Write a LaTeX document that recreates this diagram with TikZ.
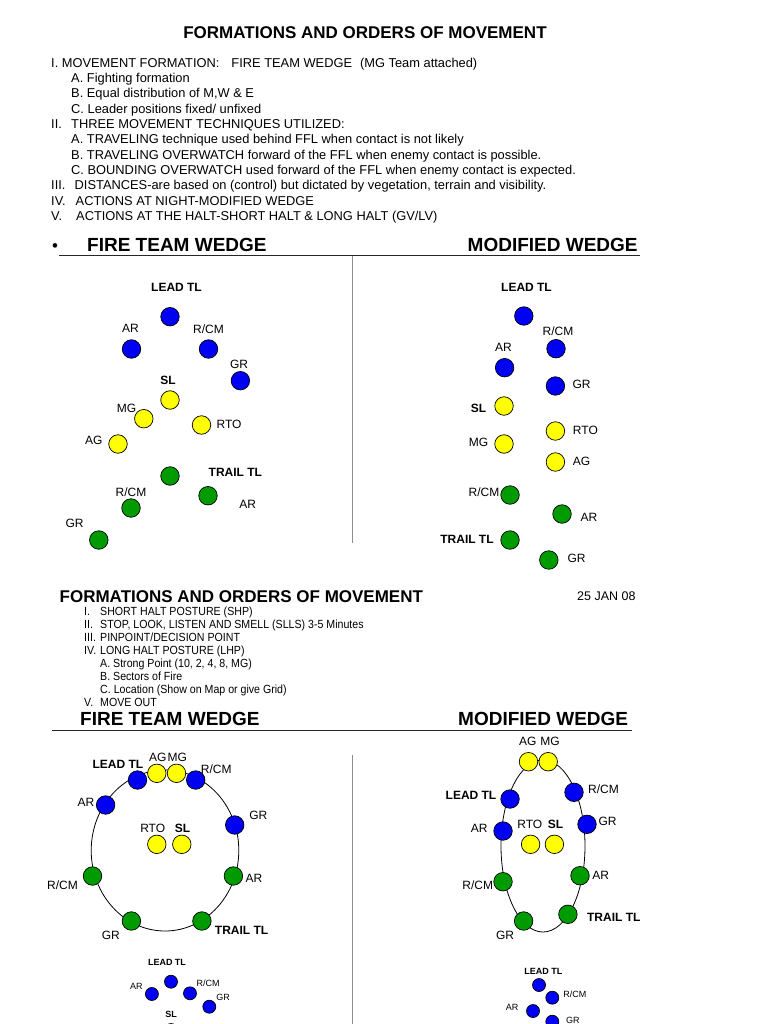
\documentclass[tikz,border=0pt]{standalone}
\usepackage{fontspec}
\setmainfont{Liberation Sans}
\newfontfamily\narrowsf[FakeStretch=0.9]{Liberation Sans}
\definecolor{teamblue}{RGB}{0,0,245}
\definecolor{teamyellow}{RGB}{255,255,0}
\definecolor{teamgreen}{RGB}{0,155,0}
\tikzset{
  man/.style={circle, draw=black, line width=0.7pt, minimum size=18.5pt, inner sep=0pt},
  bman/.style={man, fill=teamblue},
  yman/.style={man, fill=teamyellow},
  gman/.style={man, fill=teamgreen},
  tiny/.style={minimum size=13pt},
  lbl/.style={inner sep=0pt, text depth=0pt, font=\fontsize{12}{14}\selectfont},
  blbl/.style={inner sep=0pt, text depth=0pt, font=\bfseries\fontsize{12}{14}\selectfont},
  slbl/.style={inner sep=0pt, text depth=0pt, font=\fontsize{9}{10}\selectfont},
  sblbl/.style={inner sep=0pt, text depth=0pt, font=\bfseries\fontsize{9}{10}\selectfont},
  body/.style={anchor=base west, inner sep=0pt, font=\fontsize{12.85}{15}\selectfont},
  subbody/.style={anchor=base west, inner sep=0pt, font=\narrowsf\fontsize{11.8}{13}\selectfont},
  title/.style={inner sep=0pt, font=\bfseries\fontsize{17}{20}\selectfont},
  head/.style={anchor=base west, inner sep=0pt, font=\bfseries\fontsize{19}{22}\selectfont},
  rule/.style={line width=1.8pt, draw=black!85},
  divider/.style={line width=1.8pt, draw=black!45},
  ring/.style={line width=0.8pt, draw=black}
}
\begin{document}
\begin{tikzpicture}[x=1pt,y=-1pt]
\useasboundingbox[fill=white] (0,0) rectangle (768,1024);

% page heading and notes
\node[title, anchor=base] (title1) at (365,38.3) {FORMATIONS AND ORDERS OF MOVEMENT};
\node[body] (n1) at (51,67.3) {I. MOVEMENT FORMATION:\hspace{12pt}FIRE TEAM WEDGE\hspace{8pt}(MG Team attached)};
\node[body] (n1a) at (71,82.6) {A. Fighting formation};
\node[body] (n1b) at (71,97.9) {B. Equal distribution of M,W \& E};
\node[body] (n1c) at (71,113.3) {C. Leader positions fixed/ unfixed};
\node[body] (n2) at (51,128.6) {\makebox[20pt][l]{II.}THREE MOVEMENT TECHNIQUES UTILIZED:};
\node[body] (n2a) at (71,143.9) {A. TRAVELING technique used behind FFL when contact is not likely};
\node[body] (n2b) at (71,159.3) {B. TRAVELING OVERWATCH forward of the FFL when enemy contact is possible.};
\node[body] (n2c) at (71,174.6) {C. BOUNDING OVERWATCH used forward of the FFL when enemy contact is expected.};
\node[body] (n3) at (51,189.9) {\makebox[23.5pt][l]{III.}DISTANCES-are based on (control) but dictated by vegetation, terrain and visibility.};
\node[body] (n4) at (51,205.2) {\makebox[24.5pt][l]{IV.}ACTIONS AT NIGHT-MODIFIED WEDGE};
\node[body] (n5) at (51,220.5) {\makebox[25pt][l]{V.}ACTIONS AT THE HALT-SHORT HALT \& LONG HALT (GV/LV)};

% upper headers
\node[inner sep=0pt, font=\fontsize{17}{20}\selectfont] (bul) at (55,248) {•};
\node[head] (hdr1) at (87,251.7) {FIRE TEAM WEDGE};
\node[head] (hdr2) at (467.5,251.7) {MODIFIED WEDGE};
\draw[rule] (59,255.5) -- (640,255.5);
\draw[divider] (352.5,256) -- (352.5,543);

% fire team wedge
\node[blbl] (twLeadL) at (176.5,287.3) {LEAD TL};
\node[bman] (twLead) at (170,316.7) {};
\node[lbl] (twARL) at (130.4,328.7) {AR};
\node[bman] (twAR) at (131.5,349) {};
\node[lbl] (twRCML) at (208.5,328.7) {R/CM};
\node[bman] (twRCM) at (208.5,349) {};
\node[lbl] (twGRL) at (239,364) {GR};
\node[bman] (twGR) at (240.4,380.7) {};
\node[blbl] (twSLL) at (168,380) {SL};
\node[yman] (twSL) at (170,400) {};
\node[lbl] (twMGL) at (126.5,408) {MG};
\node[yman] (twMG) at (143.8,418.7) {};
\node[yman] (twRTO) at (201.5,425) {};
\node[lbl] (twRTOL) at (229,424) {RTO};
\node[lbl] (twAGL) at (93.8,440.7) {AG};
\node[yman] (twAG) at (118,444) {};
\node[gman] (twTrail) at (170,476) {};
\node[blbl] (twTrailL) at (235.4,472.3) {TRAIL TL};
\node[gman] (twAR2) at (208,495.7) {};
\node[lbl] (twAR2L) at (247.7,504.7) {AR};
\node[lbl] (twRCM2L) at (131,492) {R/CM};
\node[gman] (twRCM2) at (131,508) {};
\node[lbl] (twGR2L) at (74.6,523) {GR};
\node[gman] (twGR2) at (98.8,540) {};

% modified wedge
\node[blbl] (tmLeadL) at (526.5,287) {LEAD TL};
\node[bman] (tmLead) at (523.8,316) {};
\node[lbl] (tmRCML) at (558,331) {R/CM};
\node[bman] (tmRCM) at (556,348.7) {};
\node[lbl] (tmARL) at (503.5,347.7) {AR};
\node[bman] (tmAR) at (504.6,367.7) {};
\node[bman] (tmGR) at (555.4,386) {};
\node[lbl] (tmGRL) at (581.5,384) {GR};
\node[blbl] (tmSLL) at (478.5,408) {SL};
\node[yman] (tmSL) at (504,406) {};
\node[yman] (tmRTO) at (555.4,431) {};
\node[lbl] (tmRTOL) at (585.4,430) {RTO};
\node[lbl] (tmMGL) at (478.5,442.7) {MG};
\node[yman] (tmMG) at (504,444) {};
\node[yman] (tmAG) at (555.4,462) {};
\node[lbl] (tmAGL) at (581.5,461) {AG};
\node[lbl] (tmRCM2L) at (484,491.7) {R/CM};
\node[gman] (tmRCM2) at (510,495) {};
\node[gman] (tmAR2) at (562,514) {};
\node[lbl] (tmAR2L) at (589,517) {AR};
\node[blbl] (tmTrailL) at (467,539) {TRAIL TL};
\node[gman] (tmTrail) at (510,540) {};
\node[gman] (tmGR2) at (548.8,560) {};
\node[lbl] (tmGR2L) at (576.5,558) {GR};

% halt notes
\node[title, anchor=base west] (title2) at (59.5,602.3) {FORMATIONS AND ORDERS OF MOVEMENT};
\node[anchor=base west, inner sep=0pt, font=\fontsize{12.5}{15}\selectfont] (date) at (577,600.5) {25 JAN 08};
\node[subbody] (h1) at (84,615.5) {\makebox[16pt][l]{I.}SHORT HALT POSTURE (SHP)};
\node[subbody] (h2) at (84,628.5) {\makebox[16pt][l]{II.}STOP, LOOK, LISTEN AND SMELL (SLLS) 3-5 Minutes};
\node[subbody] (h3) at (84,641.5) {\makebox[16pt][l]{III.}PINPOINT/DECISION POINT};
\node[subbody] (h4) at (84,654.5) {\makebox[16pt][l]{IV.}LONG HALT POSTURE (LHP)};
\node[subbody] (h4a) at (100,667.5) {A. Strong Point (10, 2, 4, 8, MG)};
\node[subbody] (h4b) at (100,680.5) {B. Sectors of Fire};
\node[subbody] (h4c) at (100,693.5) {C. Location (Show on Map or give Grid)};
\node[subbody] (h5) at (84,706.5) {\makebox[16pt][l]{V.}MOVE OUT};

% lower headers
\node[head] (hdr3) at (80,725.7) {FIRE TEAM WEDGE};
\node[head] (hdr4) at (458,725.7) {MODIFIED WEDGE};
\draw[rule] (52,730.5) -- (632,730.5);
\draw[divider] (352.5,755) -- (352.5,1030);

% halt perimeter, fire team wedge
\draw[ring] (165,850.5) ellipse [x radius=73.8, y radius=80.5];
\node[blbl] (bwLeadL) at (117.9,764.3) {LEAD TL};
\node[bman] (bwLead) at (137.5,780) {};
\node[lbl] (bwAGL) at (157.8,757.3) {AG};
\node[lbl] (bwMGL) at (177.2,757.3) {MG};
\node[yman] (bwAG) at (156.8,773.3) {};
\node[yman] (bwMG) at (176.5,773.3) {};
\node[bman] (bwRCM) at (195.7,780) {};
\node[lbl] (bwRCML) at (216.2,769.3) {R/CM};
\node[lbl] (bwARL) at (85.9,802.3) {AR};
\node[bman] (bwAR) at (105.6,805) {};
\node[bman] (bwGR) at (234.7,825) {};
\node[lbl] (bwGRL) at (258.4,815) {GR};
\node[lbl] (bwRTOL) at (152.7,828.3) {RTO};
\node[blbl] (bwSLL) at (182.6,828.3) {SL};
\node[yman] (bwRTO) at (156.8,844.3) {};
\node[yman] (bwSL) at (181.8,844.3) {};
\node[gman] (bwRCM2) at (92.5,876) {};
\node[lbl] (bwRCM2L) at (62.5,885) {R/CM};
\node[gman] (bwAR2) at (233.4,876) {};
\node[lbl] (bwAR2L) at (254,878.3) {AR};
\node[gman] (bwGR2) at (131.4,921) {};
\node[lbl] (bwGR2L) at (110.9,935) {GR};
\node[gman] (bwTrail) at (201.9,921) {};
\node[blbl] (bwTrailL) at (241.6,930) {TRAIL TL};

% halt perimeter, modified wedge
\draw[ring] (543,846) ellipse [x radius=42, y radius=86];
\node[lbl] (bmAGL) at (527.7,741.7) {AG};
\node[lbl] (bmMGL) at (550,741.7) {MG};
\node[yman] (bmAG) at (528.5,761.7) {};
\node[yman] (bmMG) at (548.2,761.7) {};
\node[bman] (bmRCM) at (574,792.3) {};
\node[lbl] (bmRCML) at (603.5,789.3) {R/CM};
\node[blbl] (bmLeadL) at (471,795) {LEAD TL};
\node[bman] (bmLead) at (510,799) {};
\node[bman] (bmGR) at (587,824.3) {};
\node[lbl] (bmGRL) at (607.6,821) {GR};
\node[lbl] (bmARL) at (479.3,828.3) {AR};
\node[bman] (bmAR) at (503,831) {};
\node[lbl] (bmRTOL) at (529.8,824.3) {RTO};
\node[blbl] (bmSLL) at (555.6,824.3) {SL};
\node[yman] (bmRTO) at (530.6,844.3) {};
\node[yman] (bmSL) at (554.4,844.3) {};
\node[gman] (bmAR2) at (580,875.7) {};
\node[lbl] (bmAR2L) at (600.7,875.7) {AR};
\node[lbl] (bmRCM2L) at (477.7,885) {R/CM};
\node[gman] (bmRCM2) at (503,881.7) {};
\node[gman] (bmTrail) at (567.9,914.3) {};
\node[blbl] (bmTrailL) at (613.8,917.7) {TRAIL TL};
\node[gman] (bmGR2) at (523.6,921) {};
\node[lbl] (bmGR2L) at (505,935) {GR};

% small wedges at the foot
\node[sblbl] (swLeadL) at (167,962.3) {LEAD TL};
\node[bman, tiny] (swLead) at (171,981.7) {};
\node[slbl] (swARL) at (136.3,986.7) {AR};
\node[bman, tiny] (swAR) at (151.9,994) {};
\node[slbl] (swRCML) at (208,983.3) {R/CM};
\node[bman, tiny] (swRCM) at (190,993.3) {};
\node[slbl] (swGRL) at (223.2,997.7) {GR};
\node[bman, tiny] (swGR) at (209.3,1006.7) {};
\node[sblbl] (swSLL) at (171,1014.3) {SL};
\node[yman, tiny] (swSL) at (171,1030) {};

\node[sblbl] (smLeadL) at (543.3,971.7) {LEAD TL};
\node[bman, tiny] (smLead) at (539,985) {};
\node[bman, tiny] (smRCM) at (552.3,997.7) {};
\node[slbl] (smRCML) at (574.8,994.3) {R/CM};
\node[slbl] (smARL) at (512,1007.7) {AR};
\node[bman, tiny] (smAR) at (533,1011) {};
\node[bman, tiny] (smGR) at (552.3,1021.7) {};
\node[slbl] (smGRL) at (572.8,1020) {GR};
\end{tikzpicture}
\end{document}
